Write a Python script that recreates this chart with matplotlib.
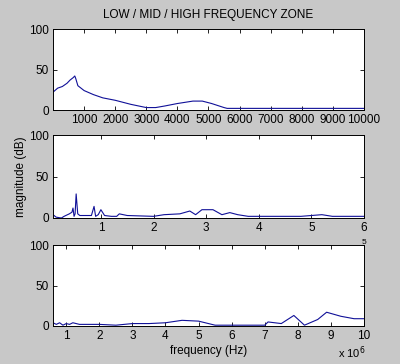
import numpy as np
import matplotlib.pyplot as plt

# low zone (Hz)
low_f = [0, 150, 300, 450, 550, 650, 700, 730, 800, 1000, 1300, 1600, 2000, 2500,
         3000, 3300, 3600, 4000, 4500, 4800, 5100, 5500, 5600, 10000]
low_db = [22, 27, 29, 33, 37, 40, 42, 39, 30, 24, 19, 15, 12, 7,
          3, 3, 5, 8, 11, 11, 8, 3, 2, 2]

# mid zone (x 1e5 Hz)
mid_f = [0.09, 0.15, 0.25, 0.3, 0.4, 0.45, 0.47, 0.49, 0.51, 0.53, 0.56, 0.6, 0.82,
         0.87, 0.9, 0.95, 1.0, 1.07, 1.2, 1.3, 1.35, 1.5, 2.0, 2.2, 2.5, 2.69, 2.8,
         2.92, 3.13, 3.3, 3.45, 3.6, 3.8, 4.8, 5.0, 5.2, 5.4, 6.0]
mid_db = [4, 1, 0, 2, 5, 7, 12, 2, 5, 29, 5, 3, 3,
          14, 2, 4, 10, 3, 2, 2, 5, 3, 2, 4, 5, 8.4, 4,
          10, 10, 4, 6.5, 4, 2, 2, 3, 4, 2, 2]

# high zone (x 1e6 Hz)
high_f = [0.6, 0.7, 0.8, 0.9, 1.0, 1.1, 1.2, 1.4, 2.0, 2.5, 3.0, 3.5, 4.0, 4.5,
          5.0, 5.4, 5.5, 7.0, 7.1, 7.5, 7.88, 8.2, 8.6, 8.87, 9.3, 9.7, 10.0]
high_db = [4, 2, 4, 1, 3, 2, 4, 2, 2, 1, 3, 3, 4, 7,
           6, 2, 1, 1, 5, 3, 13, 1, 8, 17, 12, 9, 9]

plt.rcParams['font.family'] = ['Liberation Sans', 'DejaVu Sans']
plt.rcParams['font.size'] = 8.5
line_color = '#101098'
bg = '#c8c8c8'

fig = plt.figure(figsize=(4.0, 3.64), dpi=100, facecolor=bg)
ax1 = fig.add_axes([0.1325, 0.6978, 0.7775, 0.2225])
ax2 = fig.add_axes([0.1325, 0.4011, 0.7775, 0.228])
ax3 = fig.add_axes([0.1325, 0.1044, 0.7775, 0.2225])

ax1.plot(low_f, low_db, color=line_color, lw=0.8)
ax1.set_xlim(0, 10000)
ax1.set_xticks(np.arange(1000, 10001, 1000))

ax2.plot(mid_f, mid_db, color=line_color, lw=0.8)
ax2.set_xlim(0.09, 6)
ax2.set_xticks([1, 2, 3, 4, 5, 6])
ax2.set_ylabel('magnitude (dB)')
ax2.yaxis.set_label_coords(-0.085, 0.5)
# exponent label: "x 10" sits behind the lower axes, only the "5" peeks out
ax2.text(0.93, -0.55, 'x 10', transform=ax2.transAxes, clip_on=False,
         fontsize=8, zorder=0)
fig.text(0.903, 0.333, '5', fontsize=6, va='center')

ax3.plot(high_f, high_db, color=line_color, lw=0.8)
ax3.set_xlim(0.6, 10)
ax3.set_xticks(range(1, 11))
ax3.set_xlabel('frequency (Hz)', labelpad=2)
ax3.text(0.915, -0.39, r'x 10$^{6}$', transform=ax3.transAxes, clip_on=False,
         fontsize=8)

ax1.set_title('LOW / MID / HIGH FREQUENCY ZONE', fontsize=8.5, pad=8)

for ax in (ax1, ax2, ax3):
    ax.set_ylim(0, 100)
    ax.set_yticks([0, 50, 100])
    ax.tick_params(direction='in', top=True, right=True, length=3, width=0.6, pad=3)
    for s in ax.spines.values():
        s.set_linewidth(0.7)

fig.savefig('out.png', dpi=100, facecolor=bg)
